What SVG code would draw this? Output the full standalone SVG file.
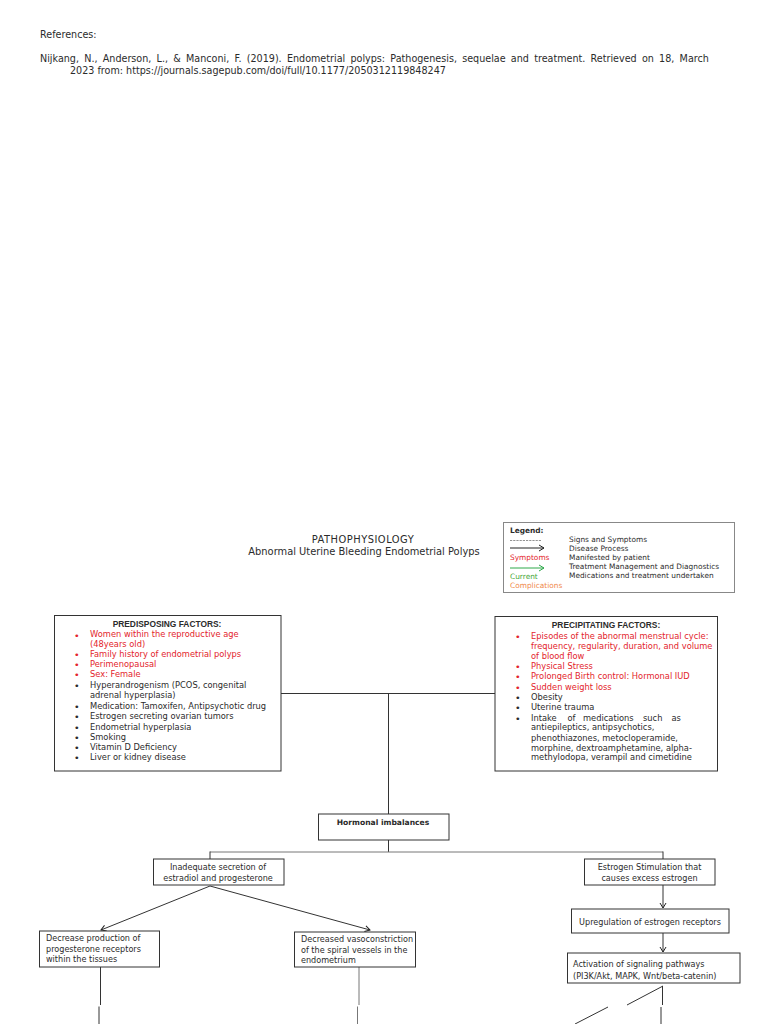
<svg xmlns="http://www.w3.org/2000/svg" width="768" height="1024" viewBox="0 0 768 1024">
<defs>
<style>
text{font-family:"DejaVu Sans","Liberation Sans",sans-serif;fill:#2b2b2b;}
.ref{font-size:9.6px;}
.ttl{font-size:9.9px;text-anchor:middle;}
.lg{font-size:7.4px;}
.lgb{font-size:7.4px;font-weight:bold;}
.it{font-size:8.3px;}
.bu{font-size:9.5px;}
.hd{font-family:"Liberation Sans",Arial,sans-serif;font-size:8.4px;font-weight:bold;text-anchor:middle;}
.red{fill:#e3242b;}
.bx{fill:#fff;stroke:#333;stroke-width:1;}
.nt{font-size:8.1px;}
.ntc{font-size:8.1px;text-anchor:middle;}
.ln{stroke:#333;stroke-width:1;fill:none;}
.lg2{stroke:#777;stroke-width:1;fill:none;}
</style>
<marker id="ah" markerWidth="8" markerHeight="8" refX="6" refY="4" orient="auto" markerUnits="userSpaceOnUse">
<path d="M1,1 L6,4 L1,7" fill="none" stroke="#222" stroke-width="1"/>
</marker>
<marker id="ahg" markerWidth="8" markerHeight="8" refX="6" refY="4" orient="auto" markerUnits="userSpaceOnUse">
<path d="M1,1 L6,4 L1,7" fill="none" stroke="#2ea84a" stroke-width="1"/>
</marker>
</defs>
<rect width="768" height="1024" fill="#fff"/>

<g id="references">
<text class="ref" x="40" y="38">References:</text>
<text class="ref" x="40" y="62" style="word-spacing:2.2px">Nijkang, N., Anderson, L., &amp; Manconi, F. (2019). Endometrial polyps: Pathogenesis, sequelae and treatment. Retrieved on 18, March</text>
<text class="ref" x="70" y="74">2023 from: https://journals.sagepub.com/doi/full/10.1177/2050312119848247</text>
</g>

<g id="title">
<text class="ttl" x="363" y="542.5" style="letter-spacing:0.5px">PATHOPHYSIOLOGY</text>
<text class="ttl" x="364" y="555">Abnormal Uterine Bleeding Endometrial Polyps</text>
</g>

<g id="legend">
<rect x="503.5" y="522.5" width="231" height="70" fill="#fff" stroke="#888" stroke-width="1"/>
<text class="lgb" x="510" y="533">Legend:</text>
<line x1="510" y1="540.5" x2="542" y2="540.5" stroke="#777" stroke-width="0.8" stroke-dasharray="2.2 1"/>
<line x1="510" y1="548" x2="544" y2="548" stroke="#222" stroke-width="1" marker-end="url(#ah)"/>
<text class="lg red" x="510" y="560">Symptoms</text>
<line x1="510" y1="568" x2="544" y2="568" stroke="#2ea84a" stroke-width="1" marker-end="url(#ahg)"/>
<text class="lg" x="510" y="578.5" style="fill:#49a83a">Current</text>
<text class="lg" x="510" y="587.5" style="fill:#f0884a">Complications</text>
<text class="lg" x="569" y="542">Signs and Symptoms</text>
<text class="lg" x="569" y="551">Disease Process</text>
<text class="lg" x="569" y="560">Manifested by patient</text>
<text class="lg" x="569" y="569">Treatment Management and Diagnostics</text>
<text class="lg" x="569" y="577.5">Medications and treatment undertaken</text>
</g>

<g id="connectors">
<line class="ln" x1="281" y1="693.5" x2="495" y2="693.5"/>
<line class="ln" x1="388.5" y1="693.5" x2="388.5" y2="814"/>
<line class="ln" x1="388.5" y1="840" x2="388.5" y2="852"/>
<line class="lg2" x1="210" y1="852" x2="663" y2="852"/>
<line class="ln" x1="210" y1="851.5" x2="210" y2="859"/>
<line class="ln" x1="663" y1="851.5" x2="663" y2="859"/>
<line class="ln" x1="210" y1="886" x2="101" y2="930" marker-end="url(#ah)"/>
<line class="ln" x1="210" y1="886" x2="370" y2="930" marker-end="url(#ah)"/>
<line class="ln" x1="663" y1="885" x2="663" y2="908" marker-end="url(#ah)"/>
<line class="ln" x1="663" y1="933" x2="663" y2="952" marker-end="url(#ah)"/>
<line class="ln" x1="100.5" y1="967" x2="100.5" y2="1005"/>
<line class="ln" x1="99" y1="1006.5" x2="99" y2="1024"/>
<line class="lg2" x1="359" y1="967" x2="359" y2="1005"/>
<line class="lg2" x1="357.5" y1="1006.5" x2="357.5" y2="1024"/>
<line class="ln" x1="663" y1="986" x2="627" y2="1005"/>
<line class="ln" x1="608" y1="1007" x2="575" y2="1024"/>
<line class="ln" x1="662.5" y1="986" x2="662.5" y2="1005"/>
<line class="ln" x1="661" y1="1007" x2="661" y2="1024"/>
</g>

<g id="predisposing">
<rect class="bx" x="54.5" y="615.5" width="226.5" height="155.5"/>
<text class="hd" x="167" y="627">PREDISPOSING FACTORS:</text>
<text class="bu red" x="74" y="638.5">•</text><text class="it red" x="90" y="637.3">Women within the reproductive age</text>
<text class="it red" x="90" y="647">(48years old)</text>
<text class="bu red" x="74" y="658">•</text><text class="it red" x="90" y="657">Family history of endometrial polyps</text>
<text class="bu red" x="74" y="668">•</text><text class="it red" x="90" y="667">Perimenopausal</text>
<text class="bu red" x="74" y="678">•</text><text class="it red" x="90" y="677">Sex: Female</text>
<text class="bu" x="74" y="689">•</text><text class="it" x="90" y="688">Hyperandrogenism (PCOS, congenital</text>
<text class="it" x="90" y="698">adrenal hyperplasia)</text>
<text class="bu" x="74" y="710">•</text><text class="it" x="90" y="709">Medication: Tamoxifen, Antipsychotic drug</text>
<text class="bu" x="74" y="720">•</text><text class="it" x="90" y="719">Estrogen secreting ovarian tumors</text>
<text class="bu" x="74" y="731">•</text><text class="it" x="90" y="730">Endometrial hyperplasia</text>
<text class="bu" x="74" y="741">•</text><text class="it" x="90" y="740">Smoking</text>
<text class="bu" x="74" y="751">•</text><text class="it" x="90" y="750">Vitamin D  Deficiency</text>
<text class="bu" x="74" y="761">•</text><text class="it" x="90" y="760">Liver or kidney disease</text>
</g>

<g id="precipitating">
<rect class="bx" x="495" y="616.5" width="222.5" height="154.5"/>
<text class="hd" x="606" y="628">PRECIPITATING FACTORS:</text>
<text class="bu red" x="515" y="640">•</text><text class="it red" x="531" y="638.7">Episodes of the abnormal menstrual cycle:</text>
<text class="it red" x="531" y="649">frequency, regularity, duration, and volume</text>
<text class="it red" x="531" y="659">of blood flow</text>
<text class="bu red" x="515" y="670">•</text><text class="it red" x="531" y="669">Physical Stress</text>
<text class="bu red" x="515" y="680">•</text><text class="it red" x="531" y="679">Prolonged Birth control: Hormonal IUD</text>
<text class="bu red" x="515" y="691">•</text><text class="it red" x="531" y="690">Sudden weight loss</text>
<text class="bu" x="515" y="701">•</text><text class="it" x="531" y="700">Obesity</text>
<text class="bu" x="515" y="711">•</text><text class="it" x="531" y="710">Uterine trauma</text>
<text class="bu" x="515" y="722">•</text><text class="it" y="721"><tspan x="531">Intake</tspan> <tspan x="567.5">of</tspan> <tspan x="583">medications</tspan> <tspan x="643">such</tspan> <tspan x="671.5">as</tspan></text>
<text class="it" x="531" y="730">antiepileptics, antipsychotics,</text>
<text class="it" x="531" y="741">phenothiazones, metocloperamide,</text>
<text class="it" x="531" y="751">morphine, dextroamphetamine, alpha-</text>
<text class="it" x="531" y="760">methylodopa, verampil and cimetidine</text>
</g>

<g id="hormonal">
<rect class="bx" x="318.5" y="814" width="130.5" height="26"/>
<text class="ntc" x="383" y="825" style="font-weight:bold;font-size:7.6px">Hormonal imbalances</text>
</g>

<g id="inadequate">
<rect class="bx" x="153.5" y="859" width="130.5" height="26"/>
<text class="ntc" x="218" y="870">Inadequate secretion of</text>
<text class="ntc" x="218" y="880.5">estradiol and progesterone</text>
</g>

<g id="estrogen">
<rect class="bx" x="584.5" y="859" width="130.5" height="26"/>
<text class="ntc" x="649.5" y="870">Estrogen Stimulation that</text>
<text class="ntc" x="649.5" y="880.5">causes excess estrogen</text>
</g>

<g id="upregulation">
<rect class="bx" x="571.5" y="909" width="157.5" height="24"/>
<text class="ntc" x="650" y="924.5">Upregulation of estrogen receptors</text>
</g>

<g id="activation">
<rect class="bx" x="567.5" y="953" width="172.5" height="30"/>
<text class="nt" x="573" y="966.5">Activation of signaling pathways</text>
<text class="nt" x="573" y="978.5">(PI3K/Akt, MAPK, Wnt/beta-catenin)</text>
</g>

<g id="decrease-production">
<rect class="bx" x="39.5" y="931" width="120" height="36"/>
<text class="nt" x="46" y="941">Decrease production of</text>
<text class="nt" x="46" y="951.5">progesterone receptors</text>
<text class="nt" x="46" y="962">within the tissues</text>
</g>

<g id="vasoconstriction">
<rect class="bx" x="294.5" y="932" width="121" height="35"/>
<text class="nt" x="301" y="942">Decreased vasoconstriction</text>
<text class="nt" x="301" y="952.5">of the spiral vessels in the</text>
<text class="nt" x="301" y="963">endometrium</text>
</g>
</svg>
